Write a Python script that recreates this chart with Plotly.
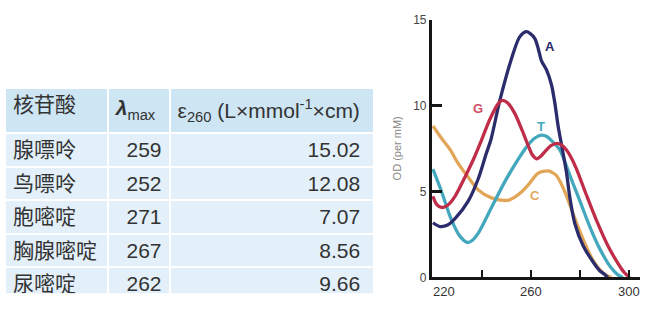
import plotly.graph_objects as go

# ---------------- table data ----------------
TABLE_HEADER = ["核苷酸",
                "<b><i>λ</i></b><sub>max</sub>",
                "ε<sub>260</sub> (L×mmol<sup>-1</sup>×cm)"]
NUCLEOSIDES = ["腺嘌呤", "鸟嘌呤", "胞嘧啶", "胸腺嘧啶", "尿嘧啶"]
LAMBDA_MAX = ["259", "252", "271", "267", "262"]
EPS_260 = ["15.02", "12.08", "7.07", "8.56", "9.66"]

# ---------------- spectra data ----------------
A_X = [220, 222.9, 226, 229, 234.4, 238.5, 241.8, 243.6, 247.3, 252, 255.4, 258.1, 259.6,
       261.6, 263, 264.3, 266.4, 268.4, 269.8, 271.1, 272.5, 274.5, 275.9, 277.9, 281.3,
       285.3, 288, 290.1, 291.4]
A_Y = [3.18, 2.96, 3.05, 3.42, 4.44, 5.74, 7.23, 7.98, 10.3, 12.7, 14.0, 14.3, 14.2,
       13.9, 13.3, 12.6, 12.06, 11.2, 10.1, 8.8, 7.7, 6.1, 4.63, 3.14, 1.84,
       0.91, 0.4, 0.17, 0]

G_X = [220, 221.5, 223.5, 226, 229, 233.7, 237.1, 239.8, 243.2, 246.6, 248.4, 250.5, 253.4,
       256, 258.8, 260.5, 262.3, 264, 265.7, 268, 270.6, 272.5, 274.5, 276.5, 278.6, 282.6,
       286.7, 291.4, 295.5, 298, 300.2]
G_Y = [4.72, 4.25, 4.07, 4.2, 4.72, 6.02, 7.05, 7.98, 9.19, 10.1, 10.3, 10.15, 9.55,
       8.7, 7.7, 7.15, 6.9, 7.05, 7.32, 7.65, 7.8, 7.7, 7.42, 6.95, 6.3, 4.81,
       3.33, 1.84, 0.82, 0.3, 0]

T_X = [220, 223.5, 227.6, 231, 234.1, 236, 238.5, 243.9, 249.3, 254.7, 258.8, 261.5, 264.3,
       266.5, 268.5, 271.8, 275.9, 280, 284, 288.1, 292.8, 295.5, 297.5]
T_Y = [6.3, 5.0, 3.33, 2.4, 2.03, 2.15, 2.58, 4.07, 5.56, 6.86, 7.7, 8.1, 8.28,
       8.2, 7.95, 7.42, 5.93, 4.44, 2.96, 1.66, 0.54, 0.15, 0]

C_X = [220, 223.5, 227.1, 230, 233.9, 238.5, 243.9, 248.6, 251, 253.4, 256, 258.8, 262.8,
       265, 267, 268.8, 270.4, 273.8, 277.2, 281.3, 285.3, 289.4, 292.8]
C_Y = [8.81, 8.1, 7.42, 6.7, 5.93, 5.09, 4.63, 4.48, 4.5, 4.67, 4.95, 5.37, 6.05,
       6.17, 6.2, 6.1, 5.93, 5.0, 3.7, 2.21, 1.0, 0.26, 0]

CURVE_NAMES = ["C", "T", "A", "G"]
LABEL_POS = {"A": (267.7, 13.46), "G": (238.3, 9.83), "T": (263.9, 8.81), "C": (261.6, 4.78)}
Y_TICKS = [0, 5, 10, 15]
X_TICK_MARKS = [240, 260, 280, 300]
X_TICK_LABELS = ["220", "260", "300"]
X_TICK_LABEL_VALS = [220, 260, 300]
Y_TITLE = "OD (per mM)"

LINE_COLORS = {"A": "#2b2c6b", "G": "#bf2d49", "T": "#43a8bd", "C": "#e2a658"}
LABEL_COLORS = {"A": "#2b2c6b", "G": "#d04e68", "T": "#45a9be", "C": "#e3aa62"}

curves = {"A": (A_X, A_Y), "G": (G_X, G_Y), "T": (T_X, T_Y), "C": (C_X, C_Y)}

W, H = 653, 314
fig = go.Figure()

# table
fig.add_trace(go.Table(
    domain=dict(x=[5 / W, 375 / W], y=[1 - 300 / H, 1 - 85 / H]),
    columnwidth=[103, 62, 205],
    header=dict(
        values=TABLE_HEADER,
        fill_color="#cee5f4",
        line=dict(color="white", width=2),
        align=["left", "left", "left"],
        font=dict(family="Liberation Sans, Noto Sans CJK SC", size=21, color="#333333"),
        height=43,
    ),
    cells=dict(
        values=[NUCLEOSIDES, LAMBDA_MAX, [v + "\u00a0" for v in EPS_260]],
        fill_color="#e3f0f9",
        line=dict(color="white", width=2),
        align=["left", "right", "right"],
        font=dict(family="Liberation Sans, Noto Sans CJK SC", size=21, color="#333333"),
        height=33.5,
    ),
))

for name in CURVE_NAMES:
    xs, ys = curves[name]
    fig.add_trace(go.Scatter(
        x=xs, y=ys, mode="lines", name=name,
        line=dict(color=LINE_COLORS[name], width=3.3, shape="spline", smoothing=0.8),
        showlegend=False, hoverinfo="skip",
    ))

annotations = []
for name, (lx, ly) in LABEL_POS.items():
    annotations.append(dict(
        x=lx, y=ly, xref="x", yref="y", text="<b>%s</b>" % name, showarrow=False,
        font=dict(family="Liberation Sans Narrow, Liberation Sans", size=13, color=LABEL_COLORS[name]),
    ))

X_LABEL_SHIFT = [11, 0, 0]
for lbl, v, sh in zip(X_TICK_LABELS, X_TICK_LABEL_VALS, X_LABEL_SHIFT):
    annotations.append(dict(
        x=v, y=0, xref="x", yref="y", text=lbl, showarrow=False,
        xanchor="center", yanchor="top", yshift=-5, xshift=sh,
        font=dict(family="Liberation Sans", size=13, color="#333333"),
    ))

annotations.append(dict(
    x=397 / W, y=1 - 148 / H, xref="paper", yref="paper", text=Y_TITLE,
    textangle=-90, showarrow=False,
    font=dict(family="Liberation Sans Narrow, Liberation Sans", size=11, color="#888888"),
))

fig.update_layout(
    width=W, height=H,
    margin=dict(l=0, r=0, t=0, b=0),
    paper_bgcolor="white", plot_bgcolor="white",
    xaxis=dict(
        domain=[431.7 / W, 640 / W], range=[219.5, 304.5],
        showgrid=False, zeroline=False, showline=True, linecolor="#151515", linewidth=2.5,
        tickmode="array", tickvals=X_TICK_MARKS, ticks="inside", ticklen=8, tickwidth=2,
        tickcolor="#151515", showticklabels=False,
    ),
    yaxis=dict(
        domain=[1 - 283 / H, 1 - 13.3 / H], range=[0, 15],
        showgrid=False, zeroline=False, showline=True, linecolor="#151515", linewidth=2.5,
        tickmode="array", tickvals=Y_TICKS, ticks="inside", ticklen=11, tickwidth=2.5,
        tickcolor="#151515",
        tickfont=dict(family="Liberation Sans", size=12, color="#444444"),
    ),
    annotations=annotations,
)

fig.write_html("out.html")
